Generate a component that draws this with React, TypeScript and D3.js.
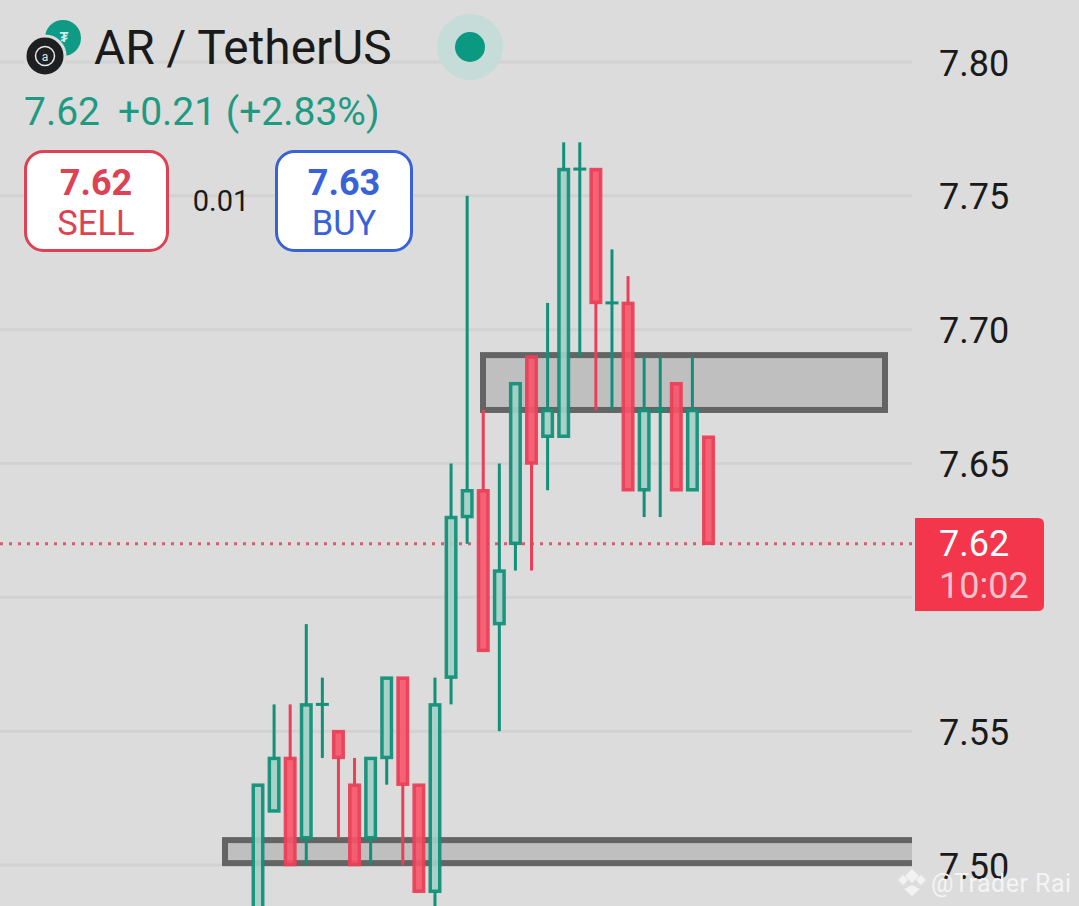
import React from "react";
import * as d3 from "d3";

const opens = [7.48, 7.52, 7.54, 7.51, 7.56, 7.55, 7.53, 7.51, 7.54, 7.57, 7.53, 7.49, 7.57, 7.63, 7.64, 7.59, 7.62, 7.69, 7.66, 7.66, 7.76, 7.76, 7.71, 7.71, 7.64, 7.67, 7.68, 7.64, 7.66];
const closes = [7.53, 7.54, 7.5, 7.56, 7.56, 7.54, 7.5, 7.54, 7.57, 7.53, 7.49, 7.56, 7.63, 7.64, 7.58, 7.61, 7.68, 7.65, 7.67, 7.76, 7.76, 7.71, 7.71, 7.64, 7.67, 7.67, 7.64, 7.67, 7.62];
const highs = [7.53, 7.56, 7.56, 7.59, 7.57, 7.55, 7.54, 7.54, 7.57, 7.57, 7.53, 7.57, 7.65, 7.75, 7.67, 7.65, 7.68, 7.69, 7.71, 7.77, 7.77, 7.76, 7.73, 7.72, 7.69, 7.69, 7.68, 7.69, 7.66];
const lows = [7.47, 7.52, 7.5, 7.5, 7.54, 7.51, 7.5, 7.5, 7.53, 7.5, 7.49, 7.47, 7.56, 7.62, 7.58, 7.55, 7.61, 7.61, 7.64, 7.66, 7.69, 7.67, 7.67, 7.64, 7.63, 7.63, 7.64, 7.64, 7.62];
const gridTicks = [7.8, 7.75, 7.7, 7.65, 7.6, 7.55, 7.5];
const axisLabels = [7.8, 7.75, 7.7, 7.65, 7.55, 7.5];
const zones = [
  { left: 483, right: 885, top: 7.6905, bottom: 7.67 },
  { left: 225, right: 916, top: 7.5093, bottom: 7.5007 },
];
const lastPrice = 7.62;

const UP = "#12907a";
const DOWN = "#ea4057";
const FONT = "Roboto, sans-serif";

const y = d3.scaleLinear().domain([7.5, 7.8]).range([865, 62]);
const x = d3.scaleLinear().domain([0, 28]).range([258, 708.5]);
const BODY = 9.5;

export default function App() {
  return (
    <svg width={1079} height={906} style={{ position: "absolute", left: 0, top: 0, background: "#dcdcdc" }} fontFamily={FONT}>
      {gridTicks.map((t) => (
        <line key={t} x1={0} x2={912} y1={y(t)} y2={y(t)} stroke="#d2d2d2" strokeWidth={3} />
      ))}
      {zones.map((z, i) => (
        <rect key={i} x={z.left} y={y(z.top)} width={z.right - z.left} height={y(z.bottom) - y(z.top)}
          fill="#bfbfbf" stroke="#646464" strokeWidth={6} />
      ))}
      <rect x={912} y={830} width={12} height={42} fill="#dcdcdc" />
      <line x1={0} x2={912} y1={y(lastPrice)} y2={y(lastPrice)} stroke="#dc5a6c" strokeWidth={3} strokeDasharray="3 6" />
      {opens.map((o, i) => {
        const c = closes[i];
        const up = c >= o;
        const col = up ? UP : DOWN;
        const top = y(Math.max(o, c));
        const bot = y(Math.min(o, c));
        const doji = o === c;
        return (
          <g key={i}>
            {highs[i] > Math.max(o, c) && (
              <line x1={x(i)} x2={x(i)} y1={y(highs[i])} y2={top} stroke={col} strokeWidth={3} />
            )}
            {lows[i] < Math.min(o, c) && (
              <line x1={x(i)} x2={x(i)} y1={bot} y2={y(lows[i])} stroke={col} strokeWidth={3} />
            )}
            {doji ? (
              <line x1={x(i) - 6.5} x2={x(i) + 6.5} y1={top} y2={top} stroke={col} strokeWidth={3} />
            ) : (
              <rect x={x(i) - BODY / 2} y={top + 0.5} width={BODY} height={bot - top - 1}
                fill={up ? "rgba(163,208,198,0.92)" : "rgba(247,84,106,0.9)"} stroke={col} strokeWidth={3.5} strokeOpacity={0.95} />
            )}
          </g>
        );
      })}

      <circle cx={470} cy={47} r={33} fill="#c6dcd8" />
      <circle cx={470} cy={47} r={15} fill="#0b9981" />

      <circle cx={63} cy={38} r={18} fill="#0e9a84" />
      <text x={64} y={42} textAnchor="middle" fontSize={14} fontWeight={700} fill="#cfeee8">₮</text>
      <circle cx={45} cy={56} r={20} fill="#1e1f21" stroke="#dcdcdc" strokeWidth={3} />
      <circle cx={45} cy={56} r={9.5} fill="none" stroke="#e8e8e8" strokeWidth={1.5} />
      <text x={45} y={60.5} textAnchor="middle" fontSize={12} fill="#e8e8e8">a</text>

      <text x={94} y={64} fontSize={47.8} fill="#1a1a1a">AR / TetherUS</text>
      <text x={24} y={125} fontSize={39} fill="#1f9a82">7.62</text>
      <text x={118} y={125} fontSize={39} fill="#1f9a82">+0.21 (+2.83%)</text>

      <rect x={25.5} y={151.5} width={142} height={99} rx={18} fill="#fff" stroke="#dc4253" strokeWidth={3} />
      <text x={96} y={195} textAnchor="middle" fontSize={36} fontWeight={700} fill="#dc4253">7.62</text>
      <text x={96} y={235} textAnchor="middle" fontSize={34.5} fill="#dc4253">SELL</text>
      <text x={221} y={211} textAnchor="middle" fontSize={29} fill="#1a1a1a">0.01</text>
      <rect x={276.5} y={151.5} width={135} height={99} rx={18} fill="#fff" stroke="#3a62d8" strokeWidth={3} />
      <text x={344} y={195} textAnchor="middle" fontSize={36} fontWeight={700} fill="#3a62d8">7.63</text>
      <text x={344} y={235} textAnchor="middle" fontSize={34.5} fill="#3a62d8">BUY</text>

      {axisLabels.map((t) => (
        <text key={t} x={939} y={y(t) + 13.5} fontSize={36} fill="#1a1a1a">{t.toFixed(2)}</text>
      ))}

      <path d="M915 518 H1038 Q1044 518 1044 524 V605 Q1044 611 1038 611 H915 Z" fill="#f4364c" />
      <text x={939} y={556} fontSize={36} fill="#ffffff">{lastPrice.toFixed(2)}</text>
      <text x={939} y={598} fontSize={36} fill="#fbc3cb">10:02</text>

      <g fill="#f2f2f2">
        <path d="M912 869 L919 876 L912 883 L905 876 Z M903 875 L908 880 L903 885 L898 880 Z M921 875 L926 880 L921 885 L916 880 Z M912 885 L920 889 L912 896 L904 889 Z" />
      </g>
      <text x={931} y={892} fontSize={25} fill="#f4f4f4" letterSpacing={0.5}>@Trader Rai</text>
    </svg>
  );
}
